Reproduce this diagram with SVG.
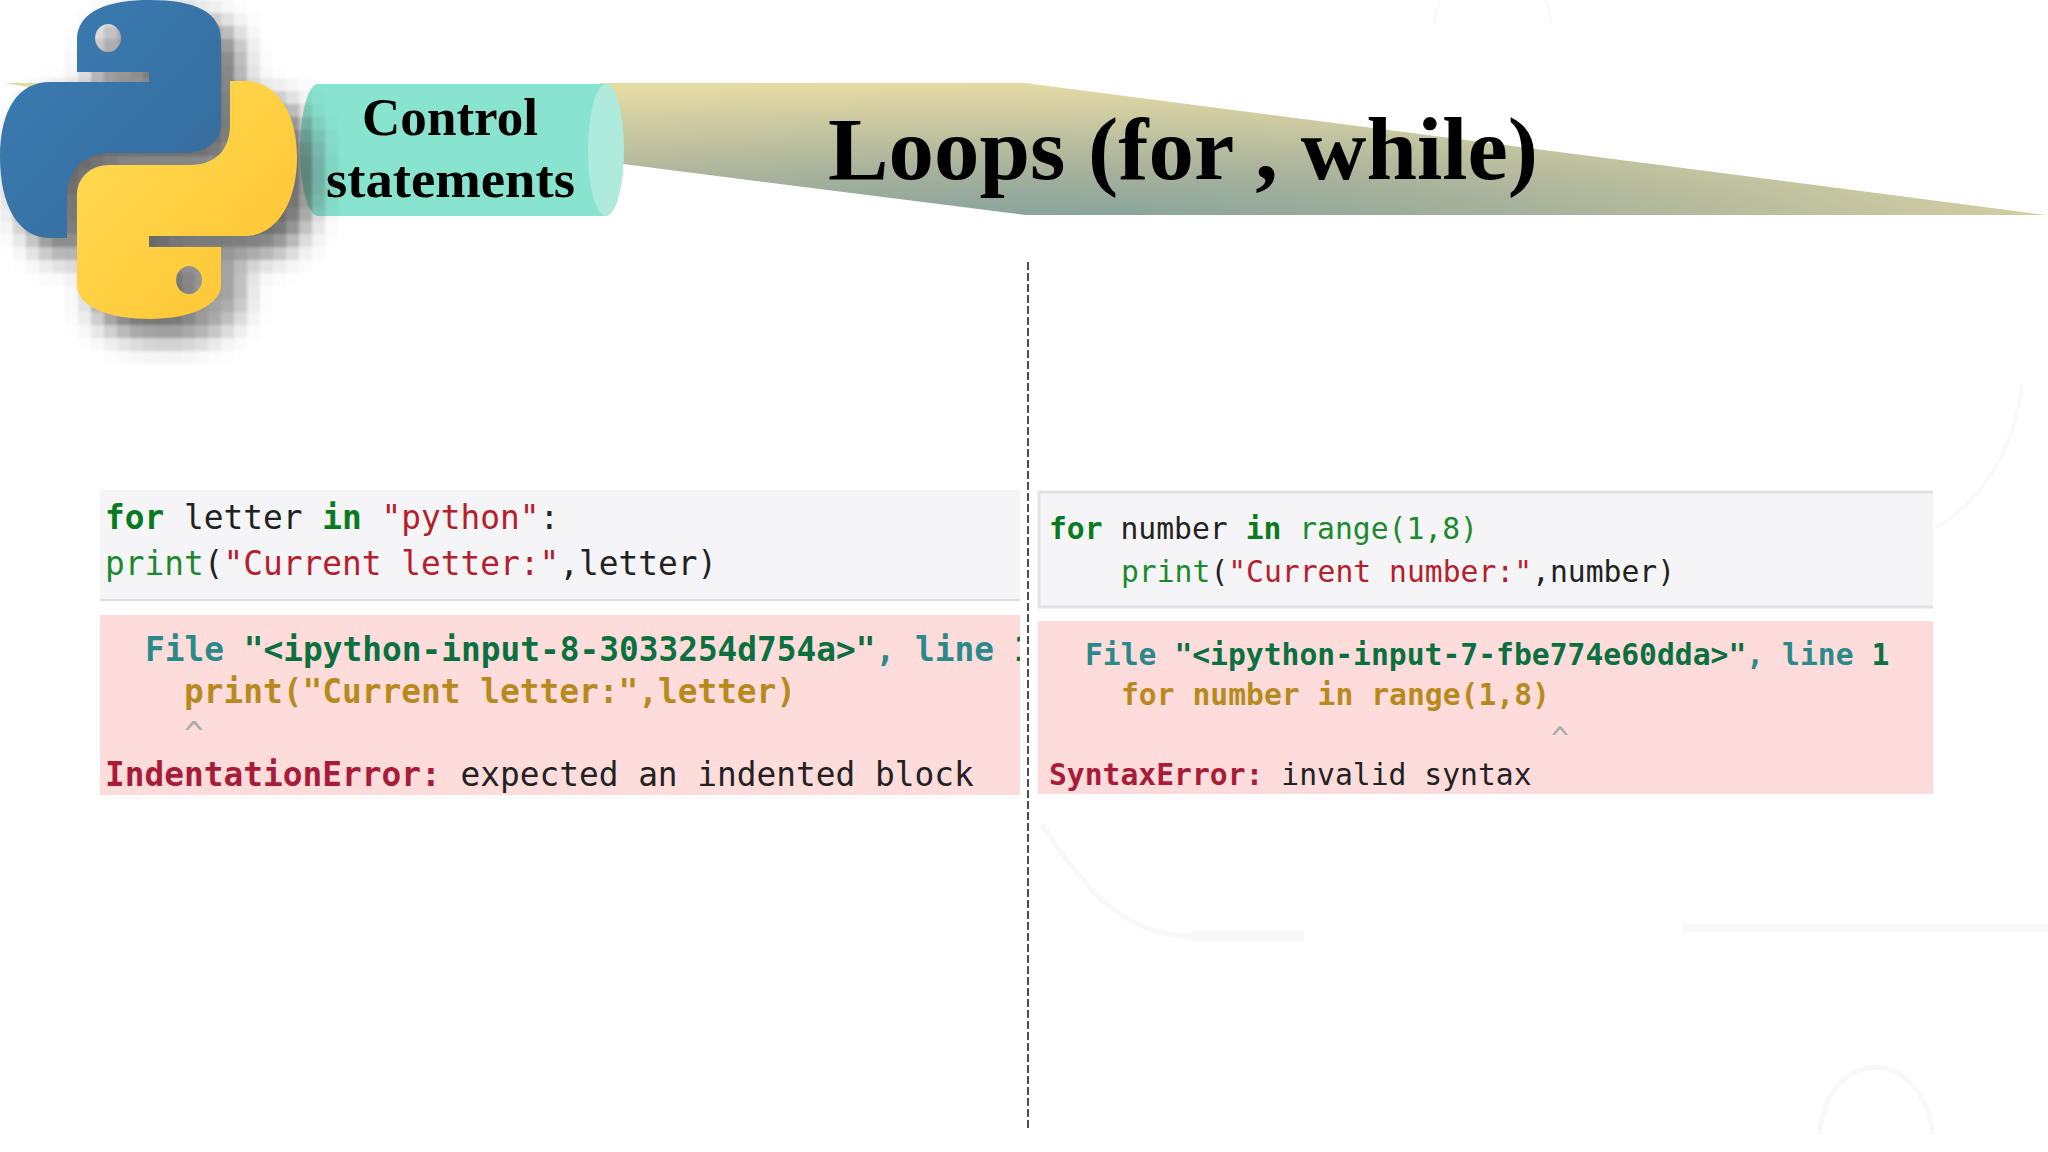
<svg xmlns="http://www.w3.org/2000/svg" width="2048" height="1152" viewBox="0 0 2048 1152">
<style>
.m{font-family:"DejaVu Sans Mono","Liberation Mono",monospace}
.l{font-size:32.8px}
.r{font-size:29.7px}
.b{font-weight:bold}
.t{font-family:"Liberation Serif",serif;font-weight:bold;fill:#000}
.wm{fill:none;stroke:#f8f7f9}
</style>
<defs>
<radialGradient id="ban" gradientUnits="userSpaceOnUse" cx="0" cy="0" r="1" gradientTransform="translate(1030 232) scale(1250 150)"><stop offset="0" stop-color="#7f9f9c"/><stop offset=".45" stop-color="#aab39c"/><stop offset="1" stop-color="#e5dba5"/></radialGradient>
<linearGradient id="bl" x1="0" y1="0" x2="1" y2="1"><stop offset="0" stop-color="#3a7db5"/><stop offset="1" stop-color="#366a99"/></linearGradient>
<linearGradient id="ye" x1="0" y1="0" x2="1" y2="1"><stop offset="0" stop-color="#ffdc55"/><stop offset="1" stop-color="#ffc330"/></linearGradient>
<filter id="px" filterUnits="userSpaceOnUse" x="0" y="0" width="416" height="416" color-interpolation-filters="sRGB">
<feGaussianBlur in="SourceGraphic" stdDeviation="15" result="b"/>
<feFlood x="6" y="6" width="1" height="1" flood-color="#000"/>
<feComposite width="13" height="13"/>
<feTile result="t"/>
<feComposite in="b" in2="t" operator="in"/>
<feMorphology operator="dilate" radius="6"/>
<feGaussianBlur stdDeviation="1.5"/>
</filter>
<path id="snakeB" d="M77 40C77 10 110 0 150 0C195 0 221 12 221 40V125C221 142 205 153 185 153H110C85 153 67 170 67 195V238H50C18 238 0 205 0 157C0 110 18 82 50 82H149V72H77Z M108 24a13 14 0 1 0 .1 0Z" fill-rule="evenodd"/>
<path id="snakeY" d="M230 81H245C275 81 297 110 297 157C297 205 275 236 245 236H149V247H221V285C221 305 190 319 150 319C105 319 77 305 77 285V195C77 178 90 165 110 165H190C215 165 230 150 230 125Z M189 266a13 14 0 1 0 .1 0Z" fill-rule="evenodd"/>
<clipPath id="leftclip"><rect x="100" y="615" width="920" height="180"/></clipPath>
</defs>
<rect width="2048" height="1152" fill="#fff"/>
<g id="watermark">
<path class="wm" stroke-width="5" d="M1042 825C1085 890 1125 936 1190 936"/>
<path class="wm" stroke-width="11" d="M1190 936H1304"/>
<path class="wm" stroke-width="8" d="M1683 928H2048"/>
<path class="wm" stroke-width="5" d="M1819 1135C1828 1045 1922 1045 1933 1135"/>
<path class="wm" stroke-width="3" d="M1936 528C1990 495 2015 440 2022 385"/>
<path class="wm" stroke-width="2" d="M1434 25C1436 10 1438 4 1440 0M1551 25C1550 10 1548 4 1546 0"/>
</g>
<g id="banner"><path d="M4 83H1025L2046 215H1025L623 164L600 83ZM4 83L60 92V83Z" fill="url(#ban)"/></g>
<g id="cylinder">
<ellipse cx="318" cy="150" rx="18" ry="66" fill="#88e4cf"/>
<rect x="318" y="84" width="288" height="132" fill="#88e4cf"/>
<ellipse cx="606" cy="150" rx="18" ry="66" fill="#aeebdd"/>
<text class="t" x="362" y="135" font-size="52" textLength="176" lengthAdjust="spacingAndGlyphs">Control</text>
<text class="t" x="326" y="197" font-size="52" textLength="249" lengthAdjust="spacingAndGlyphs">statements</text>
</g>
<g id="logo">
<g filter="url(#px)" fill="#404040" opacity=".8"><use href="#snakeB" x="18" y="18"/><use href="#snakeY" x="18" y="18"/></g>
<use href="#snakeB" fill="url(#bl)"/>
<use href="#snakeY" fill="url(#ye)"/>
</g>
<g id="title"><text class="t" x="828" y="179" font-size="89" textLength="710" lengthAdjust="spacingAndGlyphs">Loops (for , while)</text></g>
<g id="left-code">
<rect x="100" y="490" width="920" height="110" fill="#f5f5f7"/><rect x="100" y="599" width="920" height="2" fill="#ddd"/>
<rect x="100" y="615" width="920" height="180" fill="#ffdcdc"/>
<text class="m l" x="105" y="529"><tspan class="b" fill="#0a7a1f">for</tspan><tspan fill="#222"> letter </tspan><tspan class="b" fill="#0a7a1f">in</tspan><tspan fill="#b5202c"> "python"</tspan><tspan fill="#222">:</tspan></text>
<text class="m l" x="105" y="575"><tspan fill="#1c8a2c">print</tspan><tspan fill="#222">(</tspan><tspan fill="#b5202c">"Current letter:"</tspan><tspan fill="#222">,letter)</tspan></text>
<g clip-path="url(#leftclip)"><text class="m l b" x="145" y="661"><tspan fill="#2a8a8a">File </tspan><tspan fill="#0b7040">"&lt;ipython-input-8-3033254d754a&gt;"</tspan><tspan fill="#2a8a8a">, line </tspan><tspan fill="#0b7040">1</tspan></text></g>
<text class="m l b" x="184" y="703" fill="#b88a1e">print("Current letter:",letter)</text>
<text class="m l" x="184" y="746" fill="#aaa">^</text>
<text class="m l" x="105" y="786"><tspan class="b" fill="#a81c3a">IndentationError:</tspan><tspan fill="#222"> expected an indented block</tspan></text>
</g>
<g id="right-code">
<rect x="1039" y="492" width="894" height="115" fill="#f5f5f7"/>
<path d="M1933 492H1039V607H1933" fill="none" stroke="#e2e2e6" stroke-width="3"/>
<rect x="1038" y="621" width="895" height="173" fill="#ffdcdc"/>
<text class="m r" x="1049" y="539"><tspan class="b" fill="#0a7a1f">for</tspan><tspan fill="#222"> number </tspan><tspan class="b" fill="#0a7a1f">in</tspan><tspan fill="#1c8a2c"> range(1,8)</tspan></text>
<text class="m r" x="1121" y="582"><tspan fill="#1c8a2c">print</tspan><tspan fill="#222">(</tspan><tspan fill="#b5202c">"Current number:"</tspan><tspan fill="#222">,number)</tspan></text>
<text class="m r b" x="1085" y="665"><tspan fill="#2a8a8a">File </tspan><tspan fill="#0b7040">"&lt;ipython-input-7-fbe774e60dda&gt;"</tspan><tspan fill="#2a8a8a">, line </tspan><tspan fill="#0b7040">1</tspan></text>
<text class="m r b" x="1121" y="705" fill="#b88a1e">for number in range(1,8)</text>
<text class="m r" x="1551" y="749" fill="#aaa">^</text>
<text class="m r" x="1049" y="785"><tspan class="b" fill="#a81c3a">SyntaxError:</tspan><tspan fill="#222"> invalid syntax</tspan></text>
</g>
<g id="connectors"><path d="M1028 262V1128" stroke="#222" stroke-width="1.6" stroke-dasharray="8 3" fill="none"/></g>
</svg>
